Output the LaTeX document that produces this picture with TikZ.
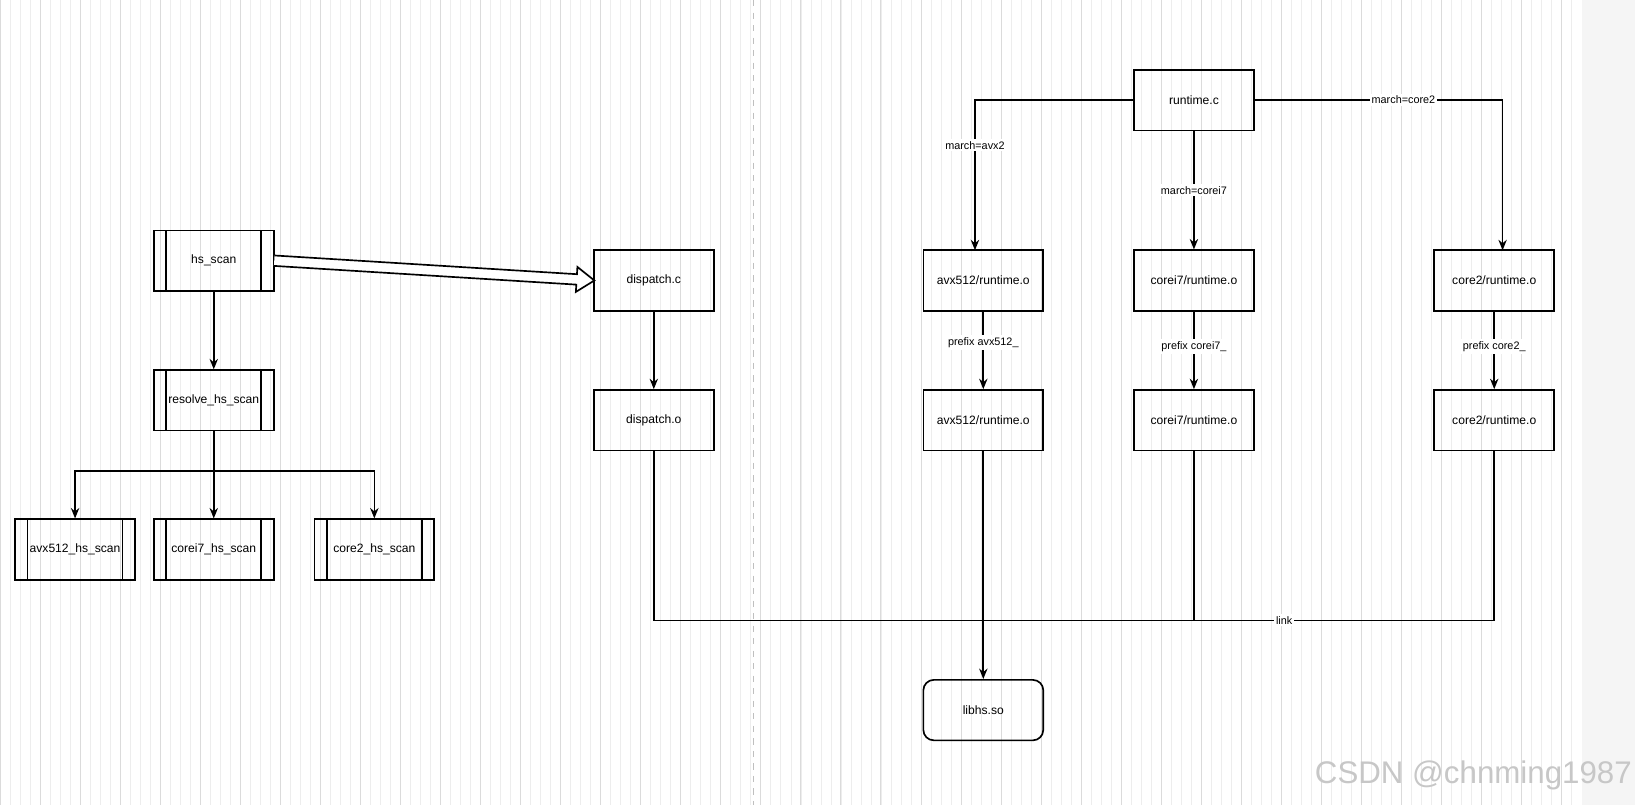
\documentclass[tikz,border=0pt]{standalone}
\usepackage{fontspec}
\setmainfont{Liberation Sans}
\usetikzlibrary{arrows.meta}
\begin{document}
\begin{tikzpicture}[x=0.5pt,y=-0.5pt,
  box/.style={draw,thick,minimum width=57.5pt,minimum height=29pt,inner sep=0pt,font=\fontsize{5.8}{7}\selectfont},
  proc/.style={box,path picture={\draw[thick] ([xshift=6pt]path picture bounding box.north west)--([xshift=6pt]path picture bounding box.south west);
     \draw[thick] ([xshift=-6pt]path picture bounding box.north east)--([xshift=-6pt]path picture bounding box.south east);}},
  arr/.style={thick,-{Stealth[length=5pt,width=4pt]}},
  lbl/.style={fill=white,inner sep=1pt,font=\fontsize{5.2}{6}\selectfont}]
\useasboundingbox (0,0) rectangle (1568,772);
\fill[white] (0,0) rectangle (1568,772);
\fill[black!4] (1517,0) rectangle (1568,772);
\draw[black!7,line width=0.3pt] (0,0) grid[step=9.6] (1516,772);
\draw[black!14,line width=0.4pt] (0,0) grid[step=38.4] (1516,772);
\draw[black!25,dashed] (723,0) -- (723,772);
% left
\node[proc] (hs) at (205,250) {hs\_scan};
\node[proc] (res) at (205,384) {resolve\_hs\_scan};
\node[proc] (a) at (72,527) {avx512\_hs\_scan};
\node[proc] (i7) at (205,527) {corei7\_hs\_scan};
\node[proc] (c2) at (359,527) {core2\_hs\_scan};
\draw[arr] (hs) -- (res);
\coordinate (br) at (205,452);
\draw[arr] (res.south) -- (br) -| (a.north);
\draw[arr] (br) -| (c2.north);
\draw[arr] (res.south) -- (i7.north);
% dispatch
\node[box] (dc) at (627,269) {dispatch.c};
\node[box] (do) at (627,403) {dispatch.o};
\draw[arr] (dc) -- (do);
\draw[thick,fill=white] (263.31,245.01)--(553.31,262.96)--(553.74,255.97)--(570,269)--(552.26,279.93)--(552.69,272.94)--(262.69,254.99);
% runtime
\node[box] (rc) at (1145,96) {runtime.c};
\node[box] (ra) at (943,269) {avx512/runtime.o};
\node[box] (ri) at (1145,269) {corei7/runtime.o};
\node[box] (rk) at (1433,269) {core2/runtime.o};
\node[box] (pa) at (943,403) {avx512/runtime.o};
\node[box] (pi) at (1145,403) {corei7/runtime.o};
\node[box] (pk) at (1433,403) {core2/runtime.o};
\node[box,rounded corners=5pt] (lib) at (943,681) {libhs.so};
\coordinate (ta) at (935,240);
\coordinate (tk) at (1441,240);
\draw[arr] (rc.west) -| node[lbl,pos=0.65]{march=avx2} (ta);
\draw[arr] (rc.east) -| node[lbl,pos=0.3]{march=core2} (tk);
\draw[arr] (rc) -- node[lbl,pos=0.5]{march=corei7} (ri);
\draw[arr] (ra) -- node[lbl,pos=0.4]{prefix avx512\_} (pa);
\draw[arr] (ri) -- node[lbl,pos=0.45]{prefix corei7\_} (pi);
\draw[arr] (rk) -- node[lbl,pos=0.45]{prefix core2\_} (pk);
\coordinate (ld) at (627,595);
\coordinate (lk) at (1433,595);
\draw[thick] (do.south) -- (ld) -- node[lbl,pos=0.75]{link} (lk) -- (pk.south);
\draw[thick] (pi.south) -- (1145,595);
\draw[arr] (pa) -- (lib);
\node[text=black!22,font=\fontsize{15}{18}\selectfont] (wm) at (1413,744) {CSDN @chnming1987};
\end{tikzpicture}
\end{document}
